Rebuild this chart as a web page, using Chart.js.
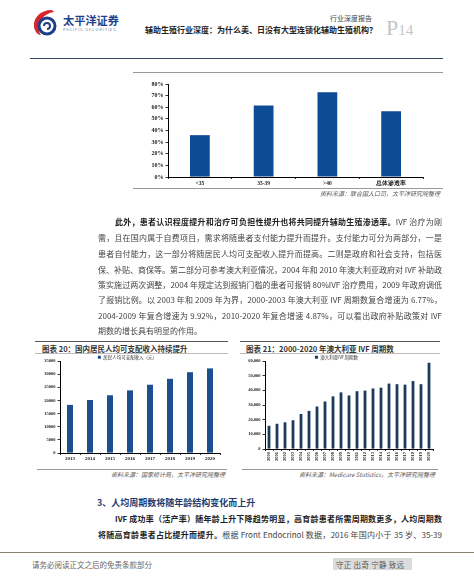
<!DOCTYPE html>
<html>
<head>
<meta charset="utf-8">
<script src="https://cdn.jsdelivr.net/npm/chart.js@4.4.1/dist/chart.umd.min.js"></script>
<style>
  html, body { margin: 0; padding: 0; background: #fff; }
  body { width: 474px; height: 577px; position: relative; overflow: hidden;
         font-family: "Noto Sans CJK SC", "Noto Sans", sans-serif; color: #333; }
  .abs { position: absolute; white-space: nowrap; }
  .hr { position: absolute; height: 0; }
  .p { position: absolute; left: 98px; width: 344px; font-size: 8px; line-height: 10px; height: 10px;
       text-align: justify; text-align-last: justify; overflow: hidden; color: #444; }
  .p b { color: #222; }
  .src { position: absolute; font-size: 6px; font-style: italic; color: #555; white-space: nowrap; }
  .ttl { position: absolute; font-size: 7.5px; font-weight: bold; color: #333; white-space: nowrap; }
  canvas { position: absolute; }
</style>
</head>
<body>

<!-- header -->
<svg class="abs" style="left:32px;top:8px" width="26" height="28" viewBox="0 0 26 28">
  <path d="M20 2 C8 2 1 10 2 19 C3 24 6 27 9 27 C5 22 6 12 14 7 C17 5 20 4 22 4 Z" fill="#d8252c"/>
  <circle cx="15" cy="18" r="8" fill="none" stroke="#1d3f8a" stroke-width="3"/>
  <path d="M12 18 a3 3 0 1 1 3 3" fill="none" stroke="#1d3f8a" stroke-width="2"/>
</svg>
<div class="abs" style="left:63px;top:12px;font-size:11.2px;font-weight:bold;color:#1d3f8a">太平洋证券</div>
<div class="abs" style="left:63px;top:26px;font-size:4px;color:#6a7fa8;letter-spacing:0.9px">PACIFIC SECURITIES</div>
<div class="abs" style="left:330px;top:13px;font-size:7px;color:#444">行业深度报告</div>
<div class="abs" style="left:145px;top:24px;font-size:8px;font-weight:bold;color:#222">辅助生殖行业深度：为什么美、日没有大型连锁化辅助生殖机构？</div>
<div class="abs" style="left:386px;top:15px;font-family:'Liberation Serif',serif;color:#c4c4c4"><span style="font-size:22px">P</span><span style="font-size:15px">14</span></div>
<div class="hr" style="left:30px;top:58px;width:413px;border-top:1.5px solid #34465a"></div>

<!-- top chart frame -->
<div class="hr" style="left:133px;top:72px;width:310px;border-top:1px solid #9a9a9a"></div>
<canvas id="ageChart" width="310" height="115" style="left:133px;top:74px"></canvas>
<div class="hr" style="left:133px;top:188px;width:310px;border-top:1px solid #9a9a9a"></div>
<div class="src" style="right:34px;top:189px">资料来源：联合国人口司，太平洋研究院整理</div>

<!-- paragraph -->
<div class="p" style="top:217px;padding-left:17px;width:327px"><b>此外，患者认识程度提升和治疗可负担性提升也将共同提升辅助生殖渗透率。</b>IVF 治疗为刚</div>
<div class="p" style="top:233px">需，且在国内属于自费项目，需求将随患者支付能力提升而提升。支付能力可分为两部分，一是</div>
<div class="p" style="top:249px">患者自付能力，这一部分将随居民人均可支配收入提升而提高。二则是政府和社会支持，包括医</div>
<div class="p" style="top:265px">保、补贴、商保等。第二部分可参考澳大利亚情况，2004 年和 2010 年澳大利亚政府对 IVF 补助政</div>
<div class="p" style="top:280px">策实施过两次调整，2004 年规定达到报销门槛的患者可报销 80%IVF 治疗费用，2009 年政府调低</div>
<div class="p" style="top:295px">了报销比例。以 2003 年和 2009 年为界，2000-2003 年澳大利亚 IVF 周期数复合增速为 6.77%，</div>
<div class="p" style="top:311px">2004-2009 年复合增速为 9.92%，2010-2020 年复合增速 4.87%，可以看出政府补贴政策对 IVF 周</div>
<div class="p" style="top:326px;text-align-last:left">期数的增长具有明显的作用。</div>

<!-- bottom left chart -->
<div class="hr" style="left:35px;top:341px;width:193px;border-top:1.5px solid #555"></div>
<div class="ttl" style="left:42px;top:343px">图表 20：国内居民人均可支配收入持续提升</div>
<div class="hr" style="left:35px;top:353px;width:193px;border-top:0.6px solid #bbb"></div>
<canvas id="incomeChart" width="195" height="114" style="left:35px;top:353px"></canvas>
<div class="hr" style="left:37px;top:469px;width:190px;border-top:1px solid #9a9a9a"></div>
<div class="src" style="right:249px;top:470px">资料来源：国家统计局，太平洋研究院整理</div>

<!-- bottom right chart -->
<div class="hr" style="left:240px;top:341px;width:200px;border-top:1.5px solid #555"></div>
<div class="ttl" style="left:246px;top:343px">图表 21：2000-2020 年澳大利亚 IVF 周期数</div>
<div class="hr" style="left:240px;top:353px;width:200px;border-top:0.6px solid #bbb"></div>
<canvas id="ivfChart" width="200" height="113" style="left:240px;top:353px"></canvas>
<div class="hr" style="left:242px;top:469px;width:196px;border-top:1px solid #9a9a9a"></div>
<div class="src" style="right:39px;top:470px">资料来源：Medicare Statistics，太平洋研究院整理</div>

<!-- section 3 -->
<div class="abs" style="left:97px;top:496px;font-size:9px;font-weight:bold;color:#1f3b6e">3、人均周期数将随年龄结构变化而上升</div>
<div class="p" style="top:514px;padding-left:17px;width:327px"><b>IVF 成功率（活产率）随年龄上升下降趋势明显，高育龄患者所需周期数更多，人均周期数</b></div>
<div class="p" style="top:530px"><b>将随高育龄患者占比提升而提升。</b>根据 Front Endocrinol 数据，2016 年国内小于 35 岁、35-39</div>

<!-- footer -->
<div class="hr" style="left:0px;top:552px;width:474px;border-top:1.5px solid #8c8273"></div>
<div class="abs" style="left:32px;top:559px;font-size:7.5px;color:#666">请务必阅读正文之后的免责条款部分</div>
<div class="abs" style="left:333px;top:558px;width:79px;height:12px;background:#dcdcdc"></div>
<div class="abs" style="left:336px;top:559px;font-size:7.5px;color:#555;letter-spacing:0.3px">守正 出奇 宁静 致远</div>

<script>
// 图表：各年龄段辅助生殖渗透率（%）
const ageLabels = ['<35', '35-39', '>40', '总体渗透率'];
const ageRates = [36, 61.5, 73, 56.5];

// 图表 20：居民人均可支配收入（元）
const incomeYears = ['2013', '2014', '2015', '2016', '2017', '2018', '2019', '2020'];
const incomeValues = [18311, 20167, 21966, 23821, 25974, 28228, 30733, 32189];

// 图表 21：澳大利亚 IVF 周期数
const ivfYears = ['2000', '2001', '2002', '2003', '2004', '2005', '2006', '2007', '2008', '2009', '2010',
                  '2011', '2012', '2013', '2014', '2015', '2016', '2017', '2018', '2019', '2020'];
const ivfCycles = [15800, 17200, 18200, 19600, 23900, 26000, 29000, 32400, 35900, 38600, 36500,
                   39400, 39800, 41300, 41800, 44600, 44200, 43900, 46300, 44200, 58800];

const serifBold = (size) => ({ family: "'Liberation Serif', 'Times New Roman', serif", size: size, weight: 'bold' });

function axisLines(tickLen) {
    return {
        grid: { display: true, drawOnChartArea: false, drawTicks: true, tickLength: tickLen, color: '#000', lineWidth: 0.8 },
        border: { display: true, color: '#000', width: 1 }
    };
}

function barChart(id, labels, values, opts) {
    const ctx = document.getElementById(id);
    return new Chart(ctx, {
        type: 'bar',
        data: {
            labels: labels,
            datasets: [{
                label: opts.legend || '',
                data: values,
                backgroundColor: opts.color,
                borderWidth: 0,
                barPercentage: 1.0,
                categoryPercentage: opts.barRatio
            }]
        },
        options: {
            responsive: false,
            animation: false,
            layout: { padding: opts.padding },
            plugins: {
                legend: opts.legend ? {
                    display: true,
                    position: 'top',
                    maxHeight: 8,
                    labels: { boxWidth: 3, boxHeight: 3, padding: 2, color: '#333',
                              font: { family: "'Noto Sans CJK SC', sans-serif", size: 4.5 } }
                } : { display: false },
                tooltip: { enabled: false }
            },
            scales: {
                x: Object.assign(axisLines(2), {
                    ticks: Object.assign({ color: '#222', padding: 1, autoSkip: false, font: serifBold(opts.xFont) }, opts.xTicks || {}),
                    afterFit: s => { s.height = opts.xHeight; }
                }),
                y: Object.assign(axisLines(2.5), {
                    min: 0, max: opts.yMax,
                    ticks: { stepSize: opts.yStep, color: '#222', padding: 2, font: serifBold(opts.yFont), callback: opts.yFormat },
                    afterFit: s => { s.width = opts.yWidth; }
                })
            }
        }
    });
}

barChart('ageChart', ageLabels, ageRates, {
    color: '#0d4b95', barRatio: 0.31,
    padding: { top: 10, right: 20, bottom: 2, left: 0 },
    xFont: 5.5, xHeight: 10, yFont: 6, yWidth: 35,
    yMax: 80, yStep: 10, yFormat: v => v + '%'
});

barChart('incomeChart', incomeYears, incomeValues, {
    color: '#1b4f8f', barRatio: 0.3, legend: '居民人均可支配收入（元）',
    padding: { top: 0, right: 10, bottom: 2, left: 0 },
    xFont: 5, xHeight: 12, yFont: 4.5, yWidth: 25,
    yMax: 35000, yStep: 5000, yFormat: v => String(v)
});

barChart('ivfChart', ivfYears, ivfCycles, {
    color: '#1a3a5e', barRatio: 0.35, legend: '澳大利亚IVF周期数',
    padding: { top: 0, right: 7, bottom: 2, left: 0 },
    xFont: 4.5, xHeight: 15, yFont: 4.5, yWidth: 25,
    xTicks: { minRotation: 90, maxRotation: 90 },
    yMax: 60000, yStep: 10000, yFormat: v => v.toLocaleString('en-US')
});
</script>
</body>
</html>
